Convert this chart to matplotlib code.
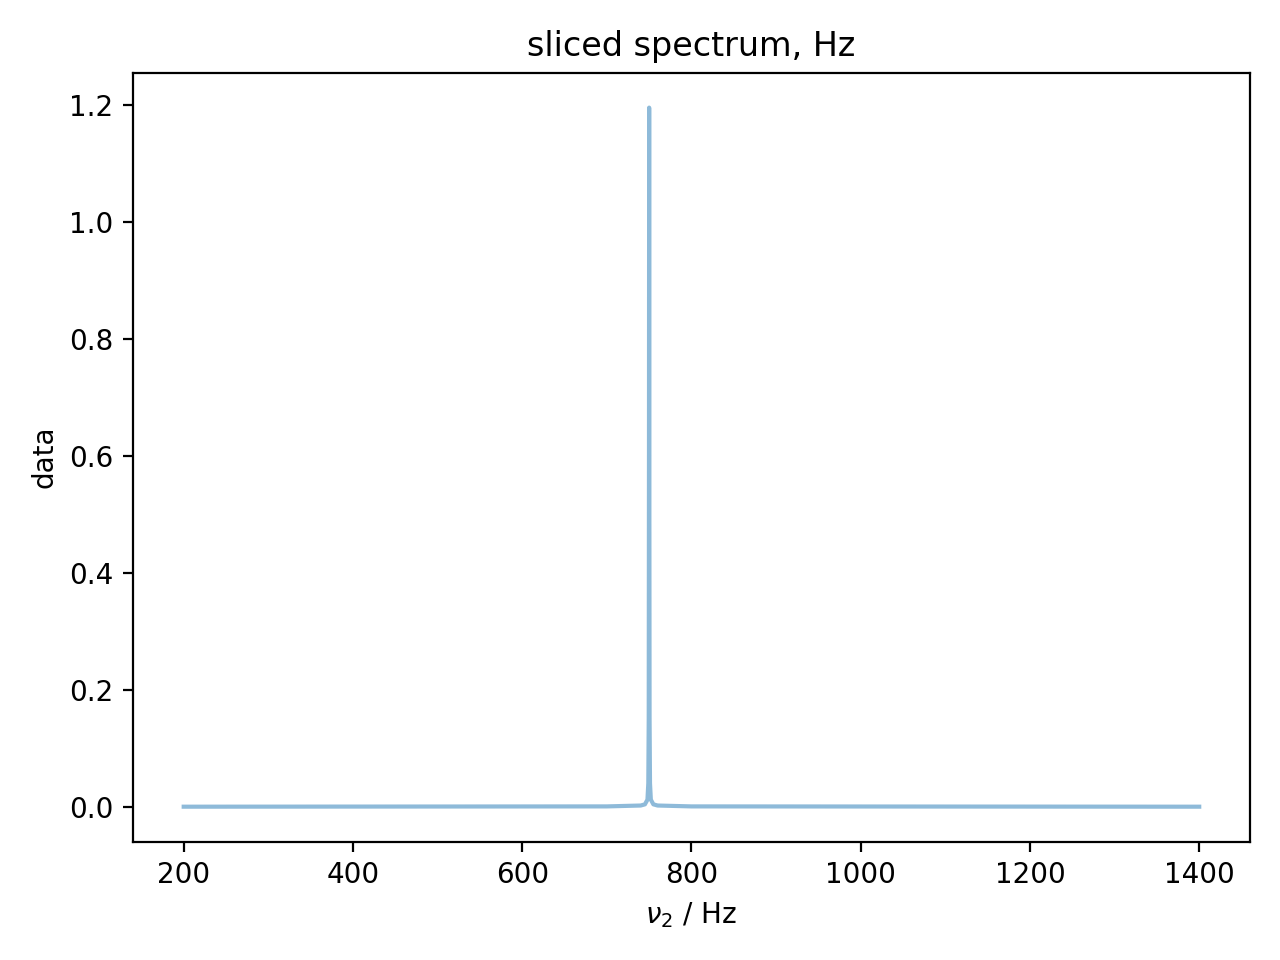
import matplotlib
matplotlib.use("Agg")
import matplotlib.pyplot as plt

# values: one narrow peak near 750 Hz
freq_hz = [200, 700, 740, 745, 748, 749, 749.5, 749.8, 750, 750.2, 750.5, 751, 752, 755, 760, 800, 1400]
intensity = [0.0, 0.0005, 0.002, 0.004, 0.012, 0.04, 0.15, 0.6, 1.195, 0.6, 0.15, 0.04, 0.012, 0.004, 0.002, 0.0005, 0.0]

fig, ax = plt.subplots(figsize=(6.4, 4.8), dpi=200)
ax.plot(freq_hz, intensity, color="C0", alpha=0.5)
ax.set_title("sliced spectrum, Hz")
ax.set_xlabel(r"$\nu_2$ / Hz")
ax.set_ylabel("data")
fig.tight_layout()
fig.savefig("out.png")
